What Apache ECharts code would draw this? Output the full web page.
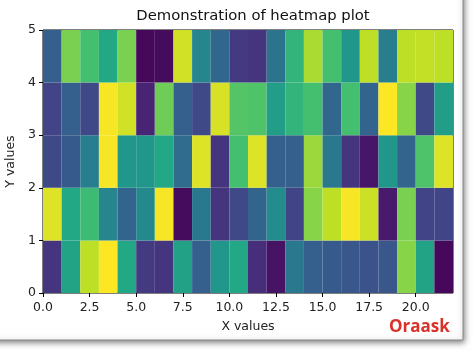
<!DOCTYPE html>
<html>
<head>
<meta charset="utf-8">
<script src="https://cdn.jsdelivr.net/npm/echarts@6/dist/echarts.min.js"></script>
<style>
html, body { margin: 0; padding: 0; background: #fff; }
#main { width: 474px; height: 353px; }
</style>
</head>
<body>
<div id="main"></div>
<script>
// cell values per row, bottom row (y 0..1) first, 22 columns each
const row0 = [0.15, 0.58, 0.9, 1.0, 0.6, 0.17, 0.15, 0.57, 0.3, 0.52, 0.6, 0.13, 0.05, 0.4, 0.3, 0.28, 0.27, 0.25, 0.27, 0.82, 0.58, 0.02];
const row1 = [0.95, 0.6, 0.68, 0.45, 0.32, 0.47, 0.99, 0.03, 0.4, 0.15, 0.22, 0.32, 0.48, 0.2, 0.82, 0.9, 0.99, 0.92, 0.07, 0.8, 0.2, 0.2];
const row2 = [0.22, 0.28, 0.42, 0.99, 0.52, 0.52, 0.6, 0.35, 0.95, 0.15, 0.7, 0.95, 0.3, 0.3, 0.85, 0.4, 0.15, 0.06, 0.52, 0.32, 0.72, 0.95];
const row3 = [0.2, 0.3, 0.22, 0.99, 0.93, 0.1, 0.78, 0.3, 0.22, 0.94, 0.73, 0.72, 0.55, 0.65, 0.7, 0.33, 0.7, 0.32, 1.0, 0.82, 0.22, 0.55];
const row4 = [0.3, 0.8, 0.7, 0.6, 0.8, 0.02, 0.03, 0.93, 0.45, 0.33, 0.17, 0.15, 0.38, 0.65, 0.87, 0.7, 0.52, 0.9, 0.42, 0.9, 0.91, 0.9];
const rows = [row0, row1, row2, row3, row4];

const xTicks = [0, 2.5, 5, 7.5, 10, 12.5, 15, 17.5, 20];
const yTicks = [0, 1, 2, 3, 4, 5];

const viridis = ['#440154', '#482475', '#414487', '#355f8d', '#2a788e', '#21918c',
  '#22a884', '#44bf70', '#7ad151', '#bddf26', '#fde725'];

const cells = [];
rows.forEach((r, y) => r.forEach((v, x) => cells.push([x, y, v])));

const chart = echarts.init(document.getElementById('main'));
const font = 'DejaVu Sans';

chart.setOption({
  backgroundColor: '#fff',
  animation: false,
  title: {
    text: 'Demonstration of heatmap plot',
    left: 248, top: 4, textAlign: 'center',
    textStyle: { fontFamily: font, fontSize: 14.8, fontWeight: 'normal', color: '#111' }
  },
  grid: {
    left: 43, right: 21, top: 30, bottom: 60, outerBoundsMode: 'none',
    show: true, borderColor: '#000', borderWidth: 1, backgroundColor: 'transparent'
  },
  visualMap: {
    show: false, min: 0, max: 1, dimension: 2,
    inRange: { color: viridis }
  },
  xAxis: {
    type: 'value', min: 0, max: 22,
    name: 'X values', nameLocation: 'middle', nameGap: 27,
    nameTextStyle: { fontFamily: font, fontSize: 12.5, color: '#222' },
    axisLine: { show: false },
    axisTick: { show: true, length: 4, lineStyle: { color: '#000' }, customValues: xTicks },
    axisLabel: { fontFamily: font, fontSize: 12.5, color: '#222', margin: 8,
      customValues: xTicks, formatter: v => v.toFixed(1) },
    splitLine: { show: false }
  },
  yAxis: {
    type: 'value', min: 0, max: 5, interval: 1,
    name: 'Y values', nameLocation: 'middle', nameGap: 26,
    nameTextStyle: { fontFamily: font, fontSize: 12.5, color: '#222' },
    axisLine: { show: false },
    axisTick: { show: true, length: 4, lineStyle: { color: '#000' }, customValues: yTicks },
    axisLabel: { fontFamily: font, fontSize: 12.5, color: '#222', margin: 7, customValues: yTicks },
    splitLine: { show: false }
  },
  graphic: [
    {
      type: 'rect', z: -10, silent: true,
      shape: { x: -10, y: -10, width: 473, height: 350 },
      style: { fill: '#fff', stroke: '#888', lineWidth: 1,
        shadowBlur: 6, shadowColor: 'rgba(0,0,0,0.5)', shadowOffsetX: 1, shadowOffsetY: 2 }
    },
    {
      type: 'text', left: 389, top: 319, z: 10,
      style: { text: 'Oraask', fill: '#d8322a', font: 'bold 17px "Open Sans"' }
    }
  ],
  series: [{
    type: 'custom',
    data: cells,
    encode: { x: 0, y: 1 },
    renderItem: (params, api) => {
      const x = api.value(0), y = api.value(1);
      const p0 = api.coord([x, y + 1]);
      const p1 = api.coord([x + 1, y]);
      return {
        type: 'rect',
        shape: { x: p0[0], y: p0[1], width: p1[0] - p0[0], height: p1[1] - p0[1] },
        style: { fill: api.visual('color'), stroke: null }
      };
    }
  }]
});
</script>
</body>
</html>
